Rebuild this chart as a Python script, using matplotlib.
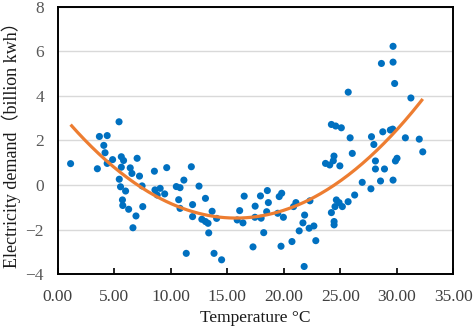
import numpy as np
import matplotlib
matplotlib.use("Agg")
import matplotlib.pyplot as plt
from matplotlib.ticker import FormatStrFormatter

# Temperature (°C) and electricity demand (billion kwh)
temperature = [
    1.13, 3.5, 3.68, 4.37, 4.07, 4.18, 4.37, 4.85, 5.42, 5.62, 5.82, 7.02, 5.62,
    6.41, 6.56, 7.23, 5.44, 5.55, 6.0, 5.72, 5.75, 6.27, 7.52, 6.92, 6.65, 7.46,
    8.55, 9.64, 11.82, 11.16, 9.06, 9.46, 8.6, 8.8, 10.49, 10.82, 12.5, 10.7,
    13.07, 11.93, 13.66, 10.82, 11.93, 12.75, 13.07, 13.3, 14.06, 13.36, 11.37,
    13.83, 14.5,
    16.1, 15.88, 16.39, 16.5, 17.47, 17.45, 17.28, 17.94, 18.55, 18.64, 18.49,
    18.0, 18.23, 19.6, 19.82, 19.47, 19.97, 19.76, 20.73, 21.08, 20.87, 22.32,
    21.85, 21.7, 21.37, 22.25, 22.67, 22.84, 21.81,
    23.7, 24.07, 24.39, 24.97, 24.45, 24.66, 24.9, 24.54, 24.22, 24.46, 24.46,
    25.19, 25.7, 26.28, 26.95, 27.72, 28.12, 28.12, 28.92, 28.57, 29.68, 29.89,
    30.03, 24.22, 24.6, 25.1, 25.88, 27.77, 27.98, 26.07, 28.77, 29.44, 29.65,
    30.77, 32.0, 32.31, 29.68, 28.65, 29.68, 29.82, 25.71, 31.26,
]
demand = [
    0.96, 0.73, 2.18, 2.22, 1.78, 1.45, 0.97, 1.14, 2.84, 1.27, 1.10, 1.20, 0.80,
    0.77, 0.52, 0.40, 0.26, -0.08, -0.27, -0.67, -0.92, -1.09, -0.97, -1.39, -1.92, -0.04,
    0.62, 0.78, 0.82, 0.22, -0.15, -0.40, -0.22, -0.45, -0.07, -0.12, -0.05, -0.66,
    -0.60, -0.88, -1.18, -1.05, -1.42, -1.54, -1.64, -1.72, -1.50, -2.15, -3.07,
    -3.07, -3.36,
    -1.15, -1.57, -1.70, -0.50, -0.95, -1.45, -2.78, -0.49, -0.25, -0.79, -1.20,
    -1.49, -2.14, -0.52, -0.37, -1.27, -1.45, -2.75, -2.54, -0.79, -0.97, -0.71,
    -1.35, -1.70, -2.06, -1.94, -1.84, -2.50, -3.66,
    0.97, 0.90, 1.09, 0.86, 1.30, -0.67, -0.79, -0.97, -1.24, -1.64, -1.79,
    -0.97, -0.75, -0.45, 0.12, -0.17, 0.72, 1.08, 0.72, 0.18, 0.22, 1.08,
    1.20, 2.72, 2.65, 2.57, 2.12, 2.17, 1.82, 1.42, 2.39, 2.47, 2.51,
    2.12, 2.06, 1.49, 6.23, 5.46, 5.52, 4.56, 4.17, 3.91,
]

x_ticks = [0, 5, 10, 15, 20, 25, 30, 35]
y_ticks = [-4, -2, 0, 2, 4, 6, 8]

serif = ["Liberation Serif", "Noto Sans CJK SC", "DejaVu Serif"]
plt.rcParams["font.family"] = serif

fig = plt.figure(figsize=(4.74, 3.29), dpi=100)
ax = fig.add_axes([0.122, 0.167, 0.834, 0.812])

ax.set_xlim(0, 35)
ax.set_ylim(-4, 8)
ax.set_yticks(y_ticks)
ax.set_xticks(x_ticks)
ax.xaxis.set_major_formatter(FormatStrFormatter("%.2f"))

ax.grid(axis="y", color="#d9d9d9", linewidth=1.0, zorder=0)
ax.set_axisbelow(True)

ax.scatter(temperature, demand, s=26, color="#0070C0", edgecolors="none", zorder=3)

coef = np.polyfit(temperature, demand, 2)
xs = np.linspace(min(temperature), max(temperature), 200)
ax.plot(xs, np.polyval(coef, xs), color="#ED7D31", linewidth=2.3, zorder=4,
        solid_capstyle="butt")

for s in ax.spines.values():
    s.set_color("black")
    s.set_linewidth(1.4)

ax.tick_params(axis="x", direction="in", length=4, width=1.2, color="black",
               labelsize=12.5, labelcolor="#404040", pad=11)
ax.tick_params(axis="y", length=0, labelsize=12.5, labelcolor="#595959", pad=10)

ax.set_xlabel("Temperature °C", fontsize=12.5, color="#1a1a1a", labelpad=3)
ax.set_ylabel("Electricity demand（billion kwh）", fontsize=13, color="#1a1a1a",
              labelpad=3)

fig.savefig("out.png", dpi=100)
